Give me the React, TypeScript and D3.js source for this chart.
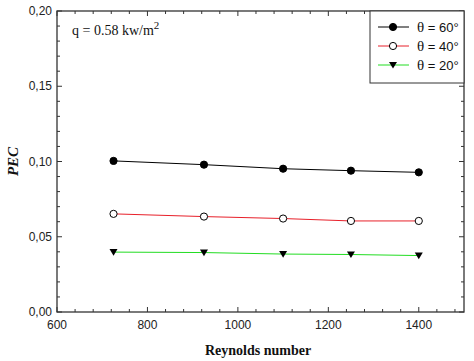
import React from 'react'
import * as d3 from 'd3'

const reynolds = [725, 925, 1100, 1250, 1400]
const pec60 = [0.1004, 0.0979, 0.0952, 0.0939, 0.0928]
const pec40 = [0.0652, 0.0634, 0.0621, 0.0605, 0.0605]
const pec20 = [0.0398, 0.0395, 0.0385, 0.0382, 0.0375]
const xTicks = [600, 800, 1000, 1200, 1400]
const yTicks = [0, 0.05, 0.1, 0.15, 0.2]
const seriesNames = ['60°', '40°', '20°']

const margin = { top: 11, right: 10, bottom: 49, left: 57 }
const W = 474
const H = 361
const width = W - margin.left - margin.right
const height = H - margin.top - margin.bottom

const series = [
  { name: seriesNames[0], values: pec60, color: '#000', marker: 'filled' },
  { name: seriesNames[1], values: pec40, color: '#e8202a', marker: 'open' },
  { name: seriesNames[2], values: pec20, color: '#22dd22', marker: 'tri' },
]

const Marker = ({ type, x, y }: { type: string; x: number; y: number }) => {
  if (type === 'tri') {
    const s = 4
    return (
      <path
        d={`M${x - s},${y - s * 0.75}L${x + s},${y - s * 0.75}L${x},${y + s * 0.9}Z`}
        fill="#000"
      />
    )
  }
  return (
    <circle
      cx={x}
      cy={y}
      r={3.6}
      fill={type === 'filled' ? '#000' : '#fff'}
      stroke="#000"
      strokeWidth={1}
    />
  )
}

export default function App() {
  const x = d3.scaleLinear().domain([600, 1500]).range([0, width])
  const y = d3.scaleLinear().domain([0, 0.2]).range([height, 0])
  const line = d3
    .line<number>()
    .x((_, i) => x(reynolds[i]))
    .y((d) => y(d))

  // minor ticks: every 40 on x, every 0.01 on y
  const xMinor = d3.range(600, 1500.1, 40).filter((v) => !xTicks.includes(v))
  const yMinor = d3.range(0, 0.2001, 0.01).filter((v) => Math.abs(v * 100 - Math.round(v * 20) * 5) > 0.01)
  const fmt = (v: number) => v.toFixed(2).replace('.', ',')

  return (
    <svg width={W} height={H} style={{ position: 'absolute', left: 0, top: 0, background: '#fff' }}>
      <g transform={`translate(${margin.left},${margin.top})`}>
        {xTicks.map((t) => (
          <g key={'xt' + t}>
            <line x1={x(t)} x2={x(t)} y1={height} y2={height - 5} stroke="#333" />
            <line x1={x(t)} x2={x(t)} y1={0} y2={5} stroke="#333" />
            <text
              x={x(t)}
              y={height + 17}
              textAnchor="middle"
              fontFamily="Liberation Sans, Arial, sans-serif"
              fontSize={12}
              fill="#222"
            >
              {t}
            </text>
          </g>
        ))}
        {xMinor.map((t) => (
          <g key={'xm' + t}>
            <line x1={x(t)} x2={x(t)} y1={height} y2={height - 3} stroke="#333" />
            <line x1={x(t)} x2={x(t)} y1={0} y2={3} stroke="#333" />
          </g>
        ))}
        {yTicks.map((t) => (
          <g key={'yt' + t}>
            <line x1={0} x2={5} y1={y(t)} y2={y(t)} stroke="#333" />
            <line x1={width} x2={width - 5} y1={y(t)} y2={y(t)} stroke="#333" />
            <text
              x={-5}
              y={y(t) + 4}
              textAnchor="end"
              fontFamily="Liberation Sans, Arial, sans-serif"
              fontSize={12}
              fill="#222"
            >
              {fmt(t)}
            </text>
          </g>
        ))}
        {yMinor.map((t) => (
          <g key={'ym' + t}>
            <line x1={0} x2={3} y1={y(t)} y2={y(t)} stroke="#333" />
            <line x1={width} x2={width - 3} y1={y(t)} y2={y(t)} stroke="#333" />
          </g>
        ))}
        <rect x={0} y={0} width={width} height={height} fill="none" stroke="#333" strokeWidth={1.3} />

        {series.map((s) => (
          <g key={s.name}>
            <path d={line(s.values) || ''} fill="none" stroke={s.color} strokeWidth={1} />
            {s.values.map((v, i) => (
              <Marker key={i} type={s.marker} x={x(reynolds[i])} y={y(v)} />
            ))}
          </g>
        ))}

        {/* legend */}
        <rect x={313} y={0} width={width - 313} height={72} fill="#fff" stroke="#333" strokeWidth={1} />
        {series.map((s, i) => {
          const ly = 16 + i * 19
          return (
            <g key={'lg' + s.name}>
              <line x1={321} x2={352} y1={ly} y2={ly} stroke={s.color} />
              <Marker type={s.marker} x={336} y={ly} />
              <text x={360} y={ly + 5} fontSize={13} fill="#111" fontFamily="Liberation Sans, Arial, sans-serif">
                <tspan fontFamily="Liberation Serif, Times New Roman, serif" fontSize={15}>θ</tspan>
                {' = ' + s.name}
              </text>
            </g>
          )
        })}

        <text x={15} y={24} fontFamily="Liberation Serif, Times New Roman, serif" fontSize={14} fill="#111">
          q = 0.58 kw/m
          <tspan dy={-6} fontSize={11}>
            2
          </tspan>
        </text>
      </g>
      <text
        transform={`translate(18,${margin.top + height / 2}) rotate(-90)`}
        textAnchor="middle"
        fontFamily="Liberation Serif, Times New Roman, serif"
        fontWeight="bold"
        fontStyle="italic"
        fontSize={15}
        fill="#111"
      >
        PEC
      </text>
      <text
        x={258}
        y={355}
        textAnchor="middle"
        fontFamily="Liberation Serif, Times New Roman, serif"
        fontWeight="bold"
        fontSize={14}
        fill="#111"
      >
        Reynolds number
      </text>
    </svg>
  )
}
